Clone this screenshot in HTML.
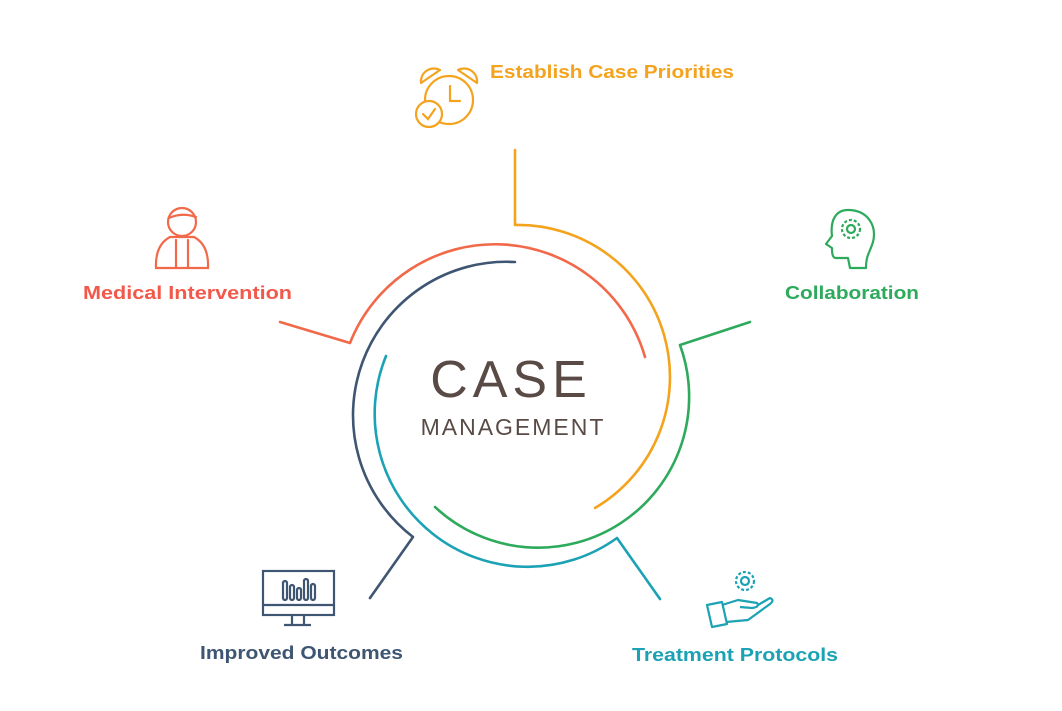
<!DOCTYPE html>
<html><head><meta charset="utf-8"><style>
html,body{margin:0;padding:0;background:#fff;}
svg{display:block}
text{font-family:"Liberation Sans",sans-serif;}
</style></head><body>
<svg width="1062" height="711" viewBox="0 0 1062 711" xmlns="http://www.w3.org/2000/svg">
<g fill="none" stroke-width="2.6" stroke-linecap="round" stroke-linejoin="round">
 <path d="M280 322 L350 343 A156 156 0 0 1 645 357" stroke="#F2694A"/>
 <path d="M515 150 L515 225 A152 152 0 0 1 595 508" stroke="#F4A31E"/>
 <path d="M750 322 L680 345 A151 151 0 0 1 435 507" stroke="#2EAA5C"/>
 <path d="M660 599 L617 538 A153 153 0 0 1 386 356" stroke="#1BA2B4"/>
 <path d="M370 598 L413 537 A153.5 153.5 0 0 1 515 262" stroke="#3F5673"/>
</g>
<text x="511" y="397" text-anchor="middle" font-size="52" fill="#5a4a45" letter-spacing="5">CASE</text>
<text x="513" y="435" text-anchor="middle" font-size="23" fill="#5a4a45" letter-spacing="2">MANAGEMENT</text>

<g font-weight="bold" font-size="18.5">
 <text x="490" y="78" fill="#F4A31E" textLength="244" lengthAdjust="spacingAndGlyphs">Establish Case Priorities</text>
 <text x="83" y="299" fill="#F2594A" textLength="209" lengthAdjust="spacingAndGlyphs">Medical Intervention</text>
 <text x="785" y="299" fill="#2EAA5C" textLength="134" lengthAdjust="spacingAndGlyphs">Collaboration</text>
 <text x="200" y="659" fill="#3F5673" textLength="203" lengthAdjust="spacingAndGlyphs">Improved Outcomes</text>
 <text x="632" y="661" fill="#1BA2B4" textLength="206" lengthAdjust="spacingAndGlyphs">Treatment Protocols</text>
</g>

<g fill="none" stroke="#F4A31E" stroke-width="2.2" stroke-linecap="round">
 <circle cx="449" cy="100" r="24"/>
 <path d="M421 83 A13 13 0 0 1 440 70 Z" stroke-linejoin="round"/>
 <path d="M458 70 A13 13 0 0 1 477 83 Z" stroke-linejoin="round"/>
 <path d="M450 86 L450 101 L460 101"/>
 <circle cx="429" cy="114" r="13" fill="#fff"/>
 <path d="M423 114 L428 119 L435 109"/>
</g>
<g fill="none" stroke="#F2694A" stroke-width="2.2" stroke-linecap="round">
 <circle cx="182" cy="222" r="14"/>
 <path d="M169 218 Q182 212 196 217"/>
 <path d="M170 237 Q155 245 156 268 L208 268 Q209 245 194 237 Z"/>
 <path d="M176 240 L176 268 M188 240 L188 268"/>
</g>
<g fill="none" stroke="#2EAA5C" stroke-width="2.2" stroke-linejoin="round">
 <path d="M848 210 C868 210 877 226 873 242 C870 252 866 255 866 268 L850 268 L848 258 L836 258 C832 258 832 252 832 248 L826 244 L832 236 C830 220 836 210 848 210 Z"/>
 <circle cx="851" cy="229" r="9" stroke-dasharray="3 2"/>
 <circle cx="851" cy="229" r="4"/>
</g>
<g fill="none" stroke="#1BA2B4" stroke-width="2.2" stroke-linejoin="round">
 <circle cx="745" cy="581" r="9" stroke-dasharray="3 2"/>
 <circle cx="745" cy="581" r="4"/>
 <path d="M707 605 L722 602 L727 624 L712 627 Z"/>
 <path d="M722 605 L738 600 L757 603 Q760 607 752 608 L740 607 M726 622 L748 620 L770 604 Q775 600 770 598 L758 605"/>
</g>
<g fill="none" stroke="#3F5673" stroke-width="2.2">
 <rect x="263" y="571" width="71" height="44"/>
 <line x1="263" y1="605" x2="334" y2="605"/>
 <path d="M292 615 L292 624 M304 615 L304 624 M284 625 L311 625" />
 <rect x="283" y="581" width="4" height="19" rx="2"/>
 <rect x="290" y="585" width="4" height="15" rx="2"/>
 <rect x="297" y="588" width="4" height="12" rx="2"/>
 <rect x="304" y="579" width="4" height="21" rx="2"/>
 <rect x="311" y="584" width="4" height="16" rx="2"/>
</g>
</svg>
</body></html>
